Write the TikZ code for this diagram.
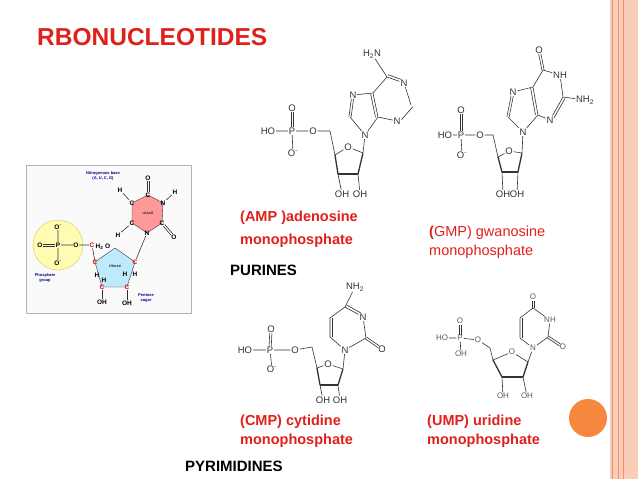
\documentclass[tikz,border=0pt]{standalone}
\usepackage{fontspec}
\usetikzlibrary{calc}
\setmainfont{Liberation Sans}
\definecolor{tred}{HTML}{E0201B}
\definecolor{band}{HTML}{F9CDB8}
\definecolor{bandl}{HTML}{E9906C}
\definecolor{dot}{HTML}{F5883E}
\definecolor{bondc}{HTML}{333333}
% double bond: nodes/coords A,B, shorten at A, shorten at B
\newcommand{\dblbond}[4]{%
 \draw[bond,shorten <=#3,shorten >=#4] ($(#1)!1.1pt!90:(#2)$) -- ($(#2)!1.1pt!-90:(#1)$);
 \draw[bond,shorten <=#3,shorten >=#4] ($(#1)!1.1pt!-90:(#2)$) -- ($(#2)!1.1pt!90:(#1)$);}
\begin{document}
\begin{tikzpicture}[x=1pt,y=-1pt,
 atom/.style={font=\fontsize{9.5}{9.5}\selectfont,inner sep=0.7pt,text=bondc},
 satom/.style={font=\bfseries\fontsize{6.5}{6.5}\selectfont,inner sep=0.5pt},
 bond/.style={line width=0.6pt,draw=bondc,shorten <=0.3pt,shorten >=0.3pt},
 wedge/.style={bond,line width=2.2pt},
 lab/.style={font=\bfseries\fontsize{14.5}{15}\selectfont,text=tred,anchor=west,inner sep=0},
 blab/.style={font=\bfseries\fontsize{15}{15}\selectfont,anchor=west,inner sep=0},
 tiny/.style={font=\bfseries\fontsize{4}{4.5}\selectfont,text=blue!60!black,align=center,inner sep=0}]
\useasboundingbox (0,0) rectangle (638,479);
\fill[white] (0,0) rectangle (638,479);
% right band
\fill[band] (610,0) rectangle (638,479);
\draw[bandl,line width=0.6pt] (612,0)--(612,479) (618,0)--(618,479) (623,0)--(623,479);
\node[circle,fill=dot,minimum size=38pt,inner sep=0] (dotc) at (588,418) {};
% title
\node[font=\bfseries\fontsize{24.5}{25}\selectfont,text=tred,anchor=west,inner sep=0] (title) at (37,37) {RBONUCLEOTIDES};
% ---------- left figure
\node[draw=gray!60,line width=0.8pt,fill=gray!4,minimum width=165pt,minimum height=148pt,inner sep=0] (box) at (108.5,239) {};
\node[circle,fill=yellow!30,draw=yellow!60!gray,minimum size=50pt,inner sep=0] (ycirc) at (58,245) {};
\coordinate (r1) at (115,248); \coordinate (r2) at (135,262); \coordinate (r3) at (127,287); \coordinate (r4) at (102,287); \coordinate (r5) at (95,262);
\fill[cyan!25,draw=bondc,line width=0.4pt] (r1)--(r2)--(r3)--(r4)--(r5)--cycle;
\coordinate (h1) at (148,195); \coordinate (h2) at (163,203); \coordinate (h3) at (162,223); \coordinate (h4) at (147,233); \coordinate (h5) at (132,223); \coordinate (h6) at (132,203);
\fill[red!40,draw=bondc,line width=0.4pt] (h1)--(h2)--(h3)--(h4)--(h5)--(h6)--cycle;
\node[tiny] (nbl) at (103,176) {Nitrogenous base\\(A, U, C, G)};
\node[tiny,text=bondc] (ulab) at (148,213) {uracil};
\node[tiny,text=bondc] (rlab) at (115,266) {ribose};
\node[tiny] (plab) at (45,278) {Phosphate\\group};
\node[tiny] (pslab) at (146,298) {Pentose\\sugar};
\node[satom] (lO1) at (40,245) {O}; \node[satom] (lP) at (58,245) {P}; \node[satom] (lO2) at (76,245) {O};
\node[satom] (lO3) at (58,227) {O\textsuperscript{-}}; \node[satom] (lO4) at (58,263) {O\textsuperscript{-}};
\node[satom,text=red] (lC5) at (92,245) {C}; \node[satom] (lH2) at (103,247) {H\textsubscript{2} O};
\dblbond{lO1}{lP}{3pt}{3pt} \draw[bond] (lP)--(lO2) (lP)--(lO3) (lP)--(lO4) (lO2)--(lC5) (lC5)--(r5);
\node[satom,text=red] (lc4) at (95,262) {C}; \node[satom,text=red] (lc1) at (135,262) {C};
\node[satom,text=red] (lc3) at (102,287) {C}; \node[satom,text=red] (lc2) at (127,287) {C};
\node[satom] (lH4) at (97,275) {H}; \node[satom] (lH3) at (104,280) {H}; \node[satom] (lH2b) at (125,274) {H}; \node[satom] (lH1) at (135,274) {H};
\node[satom] (lOH3) at (102,302) {OH}; \node[satom] (lOH2) at (127,303) {OH};
\draw[bond] (lc3)--(lOH3) (lc2)--(lOH2);
\node[satom] (lN) at (147,233) {N}; \draw[bond] (lc1)--(lN);
\node[satom] (lCa) at (148,195) {C}; \node[satom] (lOa) at (148,178) {O}; \dblbond{lCa}{lOa}{3pt}{3pt}
\node[satom] (lNb) at (163,203) {N}; \node[satom] (lHb) at (175,192) {H}; \draw[bond] (lNb)--(lHb);
\node[satom] (lCc) at (162,223) {C}; \node[satom] (lOc) at (174,237) {O}; \dblbond{lCc}{lOc}{3pt}{3pt}
\node[satom] (lCd) at (132,223) {C}; \node[satom] (lHd) at (118,235) {H}; \draw[bond] (lCd)--(lHd);
\node[satom] (lCe) at (132,203) {C}; \node[satom] (lHe) at (120,190) {H}; \draw[bond] (lCe)--(lHe);
% ---------- AMP
\node[atom] (aHO) at (268,131) {HO}; \node[atom] (aP) at (292,131) {P};
\node[atom] (aOd) at (292,108) {O}; \node[atom] (aOm) at (293,153) {O\textsuperscript{-}};
\node[atom] (aO) at (313,131) {O}; \coordinate (aC5) at (330,131);
\coordinate (a4) at (335,155); \node[atom] (aOr) at (348,147) {O}; \coordinate (a1) at (363,153);
\coordinate (a3) at (338,174); \coordinate (a2) at (358,174);
\node[atom] (aOH3) at (342,194) {OH}; \node[atom] (aOH2) at (360,194) {OH};
\node[atom] (aN9) at (365,135) {N}; \coordinate (aC8) at (350,117); \node[atom] (aN7) at (353,95) {N};
\coordinate (aB5) at (373,93); \coordinate (aB4) at (378,117); \coordinate (aB6) at (387,77);
\node[atom] (aN1) at (404,83) {N}; \coordinate (aB2) at (411,105); \node[atom] (aN3) at (397,121) {N};
\node[atom] (aNH) at (372,54) {H\textsubscript{2}N};
\draw[bond] (aHO)--(aP) (aP)--(aOm) (aP)--(aO) (aO)--(aC5)--(a4)--(aOr)--(a1) (a3)--(aOH3) (a2)--(aOH2) (a1)--(aN9)--(aC8) (aN7)--(aB5) (aB4)--(aN9) (aB6)--(aNH) (aN1)--(aB2) (aN3)--(aB4) (aB5)--(aB6);
\dblbond{aP}{aOd}{4pt}{4pt} \dblbond{aC8}{aN7}{0pt}{4pt} \draw[bond] (aB5)--(aB4); \draw[bond] ($(aB5)!2.5pt!-90:(aB4)$)--($(aB4)!2.5pt!90:(aB5)$);
\draw[bond] (aB6)--(aN1); \draw[bond,shorten >=4pt] ($(aB6)!2.5pt!90:(aN1)$)--($(aN1)!2.5pt!-90:(aB6)$);
\draw[bond,shorten >=4pt] ($(aB2)!2.5pt!90:(aN3)$)--($(aN3)!2.5pt!-90:(aB2)$);
\draw[wedge] (a3)--(a2); \draw[bond,line width=1.3pt] (a4)--(a3) (a1)--(a2);
% ---------- GMP
\node[atom] (gHO) at (445,135) {HO}; \node[atom] (gP) at (461,135) {P};
\node[atom] (gOd) at (461,110) {O}; \node[atom] (gOm) at (462,155) {O\textsuperscript{-}};
\node[atom] (gO) at (480,135) {O}; \coordinate (gC5) at (493,135);
\coordinate (g4) at (498,157); \node[atom] (gOr) at (509,151) {O}; \coordinate (g1) at (522,153);
\coordinate (g3) at (502,172); \coordinate (g2) at (518,172);
\node[atom] (gOH3) at (503,194) {OH}; \node[atom] (gOH2) at (517,194) {OH};
\node[atom] (gN9) at (523,132) {N}; \coordinate (gC8) at (508,117); \node[atom] (gN7) at (513,92) {N};
\coordinate (gB5) at (533,87); \coordinate (gB4) at (538,115); \coordinate (gB6) at (543,70);
\node[atom] (gOx) at (539,50) {O}; \node[atom] (gN1) at (560,75) {NH};
\coordinate (gB2) at (563,97); \node[atom] (gNH) at (585,100) {NH\textsubscript{2}}; \node[atom] (gN3) at (550,120) {N};
\draw[bond] (gHO)--(gP) (gP)--(gOm) (gP)--(gO) (gO)--(gC5)--(g4)--(gOr)--(g1) (g3)--(gOH3) (g2)--(gOH2) (g1)--(gN9)--(gC8) (gN7)--(gB5) (gB4)--(gN9) (gB6)--(gN1) (gN1)--(gB2)--(gNH) (gN3)--(gB4) (gB5)--(gB6) (gB2)--(gN3);
\dblbond{gP}{gOd}{4pt}{4pt} \dblbond{gC8}{gN7}{0pt}{4pt} \dblbond{gB6}{gOx}{0pt}{4pt}
\draw[bond] (gB5)--(gB4); \draw[bond] ($(gB5)!2.5pt!-90:(gB4)$)--($(gB4)!2.5pt!90:(gB5)$);
\draw[bond,shorten >=4pt] ($(gB2)!2.5pt!90:(gN3)$)--($(gN3)!2.5pt!-90:(gB2)$);
\draw[wedge] (g3)--(g2); \draw[bond,line width=1.3pt] (g4)--(g3) (g1)--(g2);
% ---------- CMP
\node[atom] (cHO) at (245,350) {HO}; \node[atom] (cP) at (270,350) {P};
\node[atom] (cOd) at (271,329) {O}; \node[atom] (cOm) at (272,369) {O\textsuperscript{-}};
\node[atom] (cO) at (295,350) {O}; \coordinate (cC5) at (312,347);
\coordinate (c4) at (317,368); \node[atom] (cOr) at (328,364) {O}; \coordinate (c1) at (343,369);
\coordinate (c3) at (320,385); \coordinate (c2) at (338,385);
\node[atom] (cOH3) at (323,400) {OH}; \node[atom] (cOH2) at (340,400) {OH};
\node[atom] (cN1) at (345,350) {N}; \coordinate (cB6) at (330,337); \coordinate (cB5) at (330,318);
\coordinate (cB4) at (345,307); \node[atom] (cN3) at (363,317) {N}; \coordinate (cB2) at (366,338);
\node[atom] (cOx) at (382,349) {O}; \node[atom] (cNH) at (355,287) {NH\textsubscript{2}};
\draw[bond] (cHO)--(cP) (cP)--(cOm) (cP)--(cO) (cO)--(cC5)--(c4)--(cOr)--(c1) (c3)--(cOH3) (c2)--(cOH2) (c1)--(cN1)--(cB6) (cB5)--(cB4) (cN3)--(cB2)--(cN1) (cB4)--(cNH) (cB6)--(cB5) (cB4)--(cN3);
\dblbond{cP}{cOd}{4pt}{4pt} \dblbond{cB2}{cOx}{0pt}{4pt}
\draw[bond] ($(cB6)!2.5pt!-90:(cB5)$)--($(cB5)!2.5pt!90:(cB6)$);
\draw[bond,shorten >=4pt] ($(cB4)!2.5pt!90:(cN3)$)--($(cN3)!2.5pt!-90:(cB4)$);
\draw[wedge] (c3)--(c2); \draw[bond,line width=1.3pt] (c4)--(c3) (c1)--(c2);
% ---------- UMP
\begin{scope}[atom/.append style={font=\fontsize{8}{8}\selectfont,text=bondc!80}]
\node[atom] (uHO) at (442,338) {HO}; \node[atom] (uP) at (460,338) {P};
\node[atom] (uOd) at (460,321) {O}; \node[atom] (uOm) at (461,354) {OH};
\node[atom] (uO) at (478,340) {O}; \coordinate (uC5) at (490,348);
\coordinate (u4) at (493,360); \node[atom] (uOr) at (512,352) {O}; \coordinate (u1) at (528,362);
\coordinate (u3) at (502,377); \coordinate (u2) at (523,377);
\node[atom] (uOH3) at (503,396) {OH}; \node[atom] (uOH2) at (527,396) {OH};
\node[atom] (uN1) at (533,348) {N}; \coordinate (uB6) at (520,338); \coordinate (uB5) at (520,318);
\coordinate (uB4) at (533,308); \node[atom] (uOx) at (533,297) {O}; \node[atom] (uN3) at (550,320) {NH};
\coordinate (uB2) at (548,337); \node[atom] (uOy) at (563,347) {O};
\end{scope}
\draw[bond] (uHO)--(uP) (uP)--(uOm) (uP)--(uO) (uO)--(uC5)--(u4)--(uOr)--(u1) (u3)--(uOH3) (u2)--(uOH2) (u1)--(uN1)--(uB6) (uB5)--(uB4) (uB4)--(uN3)--(uB2)--(uN1) (uB6)--(uB5);
\dblbond{uP}{uOd}{3.5pt}{3.5pt} \dblbond{uB4}{uOx}{0pt}{3.5pt} \dblbond{uB2}{uOy}{0pt}{3.5pt}
\draw[bond] ($(uB6)!2.3pt!-90:(uB5)$)--($(uB5)!2.3pt!90:(uB6)$);
\draw[wedge] (u3)--(u2); \draw[bond,line width=1.3pt] (u4)--(u3) (u1)--(u2);
% ---------- labels
\node[lab] (l1) at (240,218) {(AMP )adenosine};
\node[lab] (l2) at (240,241) {monophosphate};
\node[lab,font=\fontsize{14.5}{15}\selectfont] (l3) at (429,233) {\textbf{(}GMP) gwanosine};
\node[lab,font=\fontsize{14.5}{15}\selectfont] (l4) at (429,252) {monophosphate};
\node[blab] (l5) at (230,270) {PURINES};
\node[lab] (l6) at (240,422) {(CMP) cytidine};
\node[lab] (l7) at (240,441) {monophosphate};
\node[lab] (l8) at (427,422) {(UMP) uridine};
\node[lab] (l9) at (427,441) {monophosphate};
\node[blab] (l10) at (185,466) {PYRIMIDINES};
\end{tikzpicture}
\end{document}
